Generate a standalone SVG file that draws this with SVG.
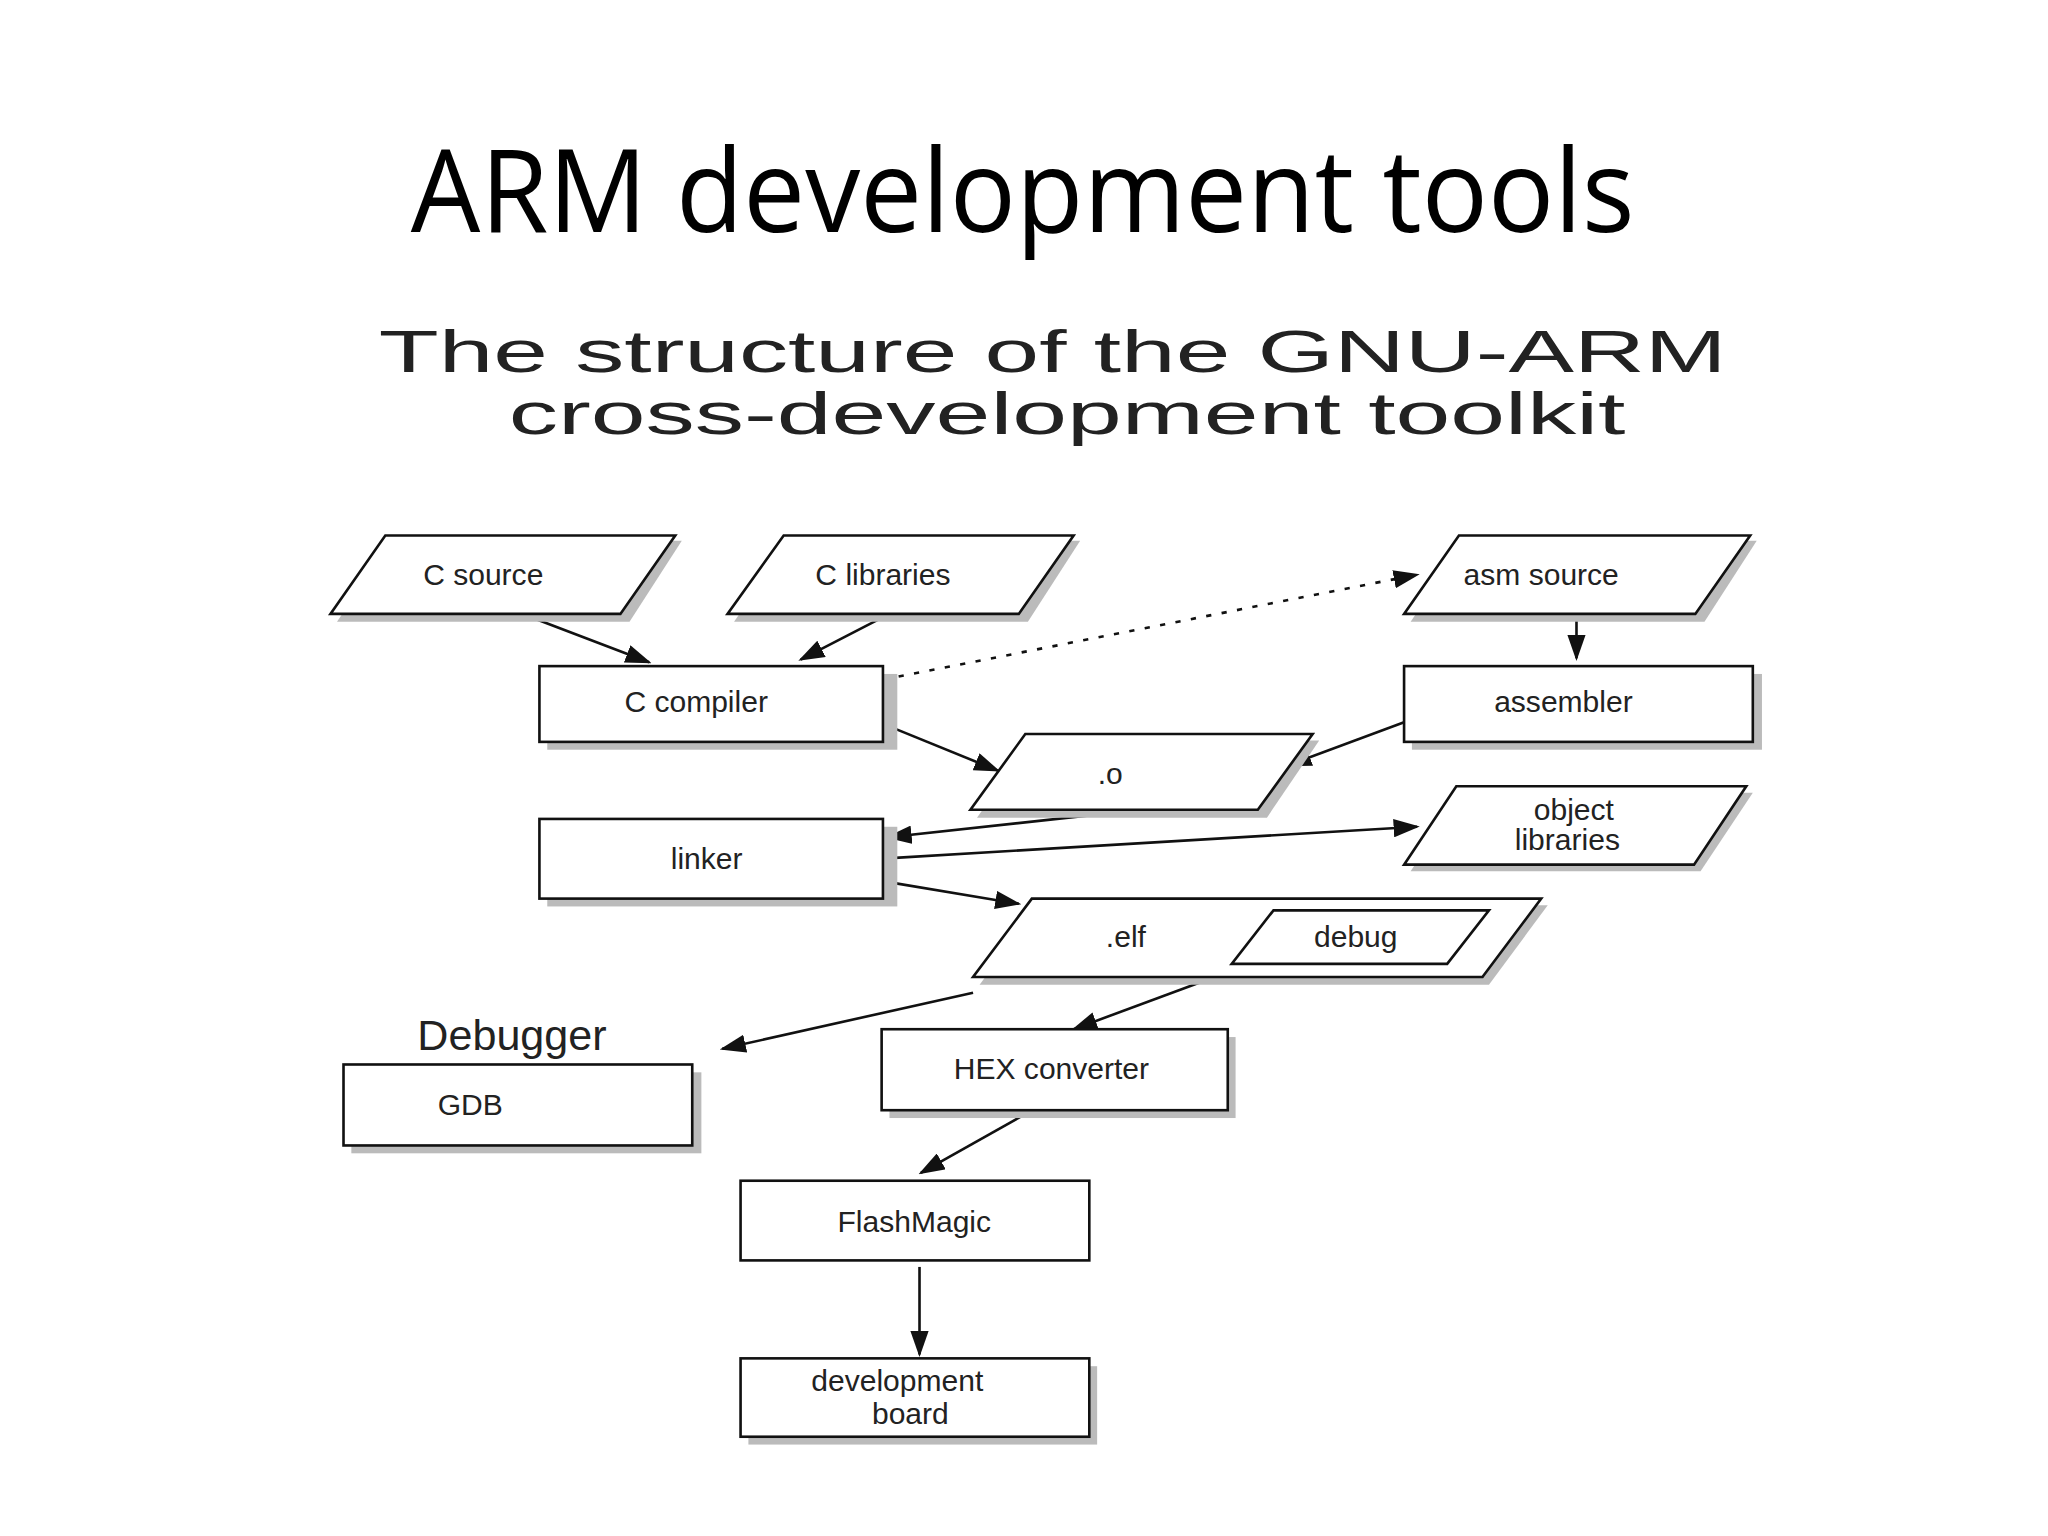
<svg xmlns="http://www.w3.org/2000/svg" width="2048" height="1536" viewBox="0 0 2048 1536">
<defs>
<style>
.n{fill:#fff;stroke:#111;stroke-width:2}
.s{fill:#bbb}
.t{font-family:"Liberation Sans",Arial,sans-serif;font-size:23px;fill:#222;text-anchor:middle}
.c{stroke:#111;stroke-width:2;fill:none}
</style>
<marker id="a" viewBox="0 0 10 10" refX="9" refY="5" markerWidth="8" markerHeight="8" orient="auto-start-reverse" markerUnits="userSpaceOnUse"><path d="M0,1 L10,5 L0,9 z" fill="#111"/></marker>
<marker id="b" viewBox="0 0 10 10" refX="9" refY="5" markerWidth="20" markerHeight="14" orient="auto" markerUnits="userSpaceOnUse" preserveAspectRatio="none"><path d="M0,0 L10,5 L0,10 z" fill="#111"/></marker>
</defs>
<rect width="2048" height="1536" fill="#fff"/>
<g transform="scale(1.30612)">
<text x="783" y="178" font-family="'Open Sans','Noto Sans',sans-serif" font-size="88" text-anchor="middle" textLength="937" lengthAdjust="spacingAndGlyphs" fill="#000">ARM development tools</text>
<text x="806" y="285" font-family="'Liberation Sans',Arial,sans-serif" font-size="46" text-anchor="middle" textLength="1032" lengthAdjust="spacingAndGlyphs" fill="#222">The structure of the GNU-ARM</text>
<text x="817" y="332" font-family="'Liberation Sans',Arial,sans-serif" font-size="46" text-anchor="middle" textLength="855" lengthAdjust="spacingAndGlyphs" fill="#222">cross-development toolkit</text>

<g id="connectors">
<line class="c" x1="405" y1="472" x2="497" y2="507" marker-end="url(#b)"/>
<line class="c" x1="675" y1="473" x2="613" y2="505" marker-end="url(#b)"/>
<line class="c" x1="688" y1="518" x2="1085" y2="440" stroke-dasharray="4,8" marker-end="url(#b)"/>
<line class="c" x1="1207" y1="472" x2="1207" y2="504" marker-end="url(#b)"/>
<line class="c" x1="678" y1="555" x2="764" y2="590" marker-end="url(#b)"/>
<line class="c" x1="1075" y1="553" x2="986" y2="586" marker-end="url(#b)"/>
<line class="c" x1="855" y1="622" x2="680" y2="641" marker-end="url(#b)" stroke-width="1.5"/>
<line class="c" x1="682" y1="657" x2="1085" y2="633" marker-start="url(#b)" marker-end="url(#b)" stroke-width="1.5"/>
<line class="c" x1="678" y1="675" x2="780" y2="692" marker-end="url(#b)"/>
<line class="c" x1="745" y1="760" x2="553" y2="803" marker-end="url(#b)" stroke-width="1.2"/>
<line class="c" x1="930" y1="748" x2="822" y2="788" marker-end="url(#b)"/>
<line class="c" x1="785" y1="853" x2="705" y2="898" marker-end="url(#b)" stroke-width="1.2"/>
<line class="c" x1="704" y1="970" x2="704" y2="1037" marker-end="url(#b)"/>
</g>

<g id="c_source"><polygon class="s" points="300,414 522,414 482,476 258,476"/><polygon class="n" points="295,410 517,410 475,470 253,470"/><text class="t" x="370" y="448">C source</text></g>
<g id="c_libraries"><polygon class="s" points="605,414 827,414 787,476 562,476"/><polygon class="n" points="600,410 822,410 780,470 557,470"/><text class="t" x="676" y="448">C libraries</text></g>
<g id="asm_source"><polygon class="s" points="1122,414 1345,414 1305,476 1080,476"/><polygon class="n" points="1117,410 1340,410 1298,470 1075,470"/><text class="t" x="1180" y="448">asm source</text></g>
<g id="c_compiler"><rect class="s" x="419" y="516" width="268" height="58"/><rect class="n" x="413" y="510" width="263" height="58"/><text class="t" x="533" y="545">C compiler</text></g>
<g id="assembler"><rect class="s" x="1081" y="516" width="268" height="58"/><rect class="n" x="1075" y="510" width="267" height="58"/><text class="t" x="1197" y="545">assembler</text></g>
<g id="o"><polygon class="s" points="790,567 1010,567 970,626 748,626"/><polygon class="n" points="785,562 1005,562 963,620 743,620"/><text class="t" x="850" y="600">.o</text></g>
<g id="linker"><rect class="s" x="419" y="633" width="268" height="61"/><rect class="n" x="413" y="627" width="263" height="61"/><text class="t" x="541" y="665">linker</text></g>
<g id="object_libraries"><polygon class="s" points="1120,607 1342,607 1302,667 1080,667"/><polygon class="n" points="1115,602 1337,602 1297,662 1075,662"/><text class="t" x="1205" y="628">object</text><text class="t" x="1200" y="651">libraries</text></g>
<g id="elf"><polygon class="s" points="795,693 1185,693 1140,754 750,754"/><polygon class="n" points="790,688 1180,688 1135,748 745,748"/><polygon class="n" points="975,697 1140,697 1108,738 943,738"/><text class="t" x="862" y="725">.elf</text><text class="t" x="1038" y="725">debug</text></g>
<g id="gdb"><text x="392" y="804" font-family="'Liberation Sans',Arial,sans-serif" font-size="33" text-anchor="middle" fill="#222">Debugger</text><rect class="s" x="269" y="821" width="268" height="62"/><rect class="n" x="263" y="815" width="267" height="62"/><text class="t" x="360" y="854">GDB</text></g>
<g id="hex_converter"><rect class="s" x="681" y="794" width="265" height="62"/><rect class="n" x="675" y="788" width="265" height="62"/><text class="t" x="805" y="826">HEX converter</text></g>
<g id="flashmagic"><rect class="n" x="567" y="904" width="267" height="61"/><text class="t" x="700" y="943">FlashMagic</text></g>
<g id="development_board"><rect class="s" x="573" y="1046" width="267" height="60"/><rect class="n" x="567" y="1040" width="267" height="60"/><text class="t" x="687" y="1065">development</text><text class="t" x="697" y="1090">board</text></g>
</g>
</svg>
